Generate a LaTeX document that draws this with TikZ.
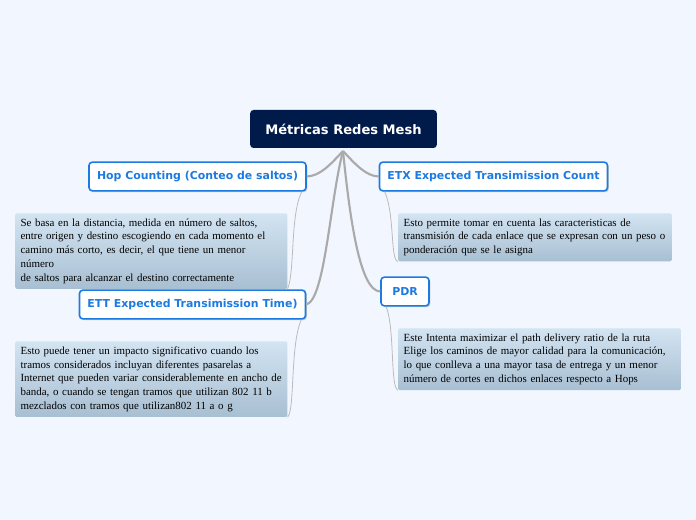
\documentclass[tikz,border=0pt]{standalone}
\usepackage{fontspec}
\setmainfont{Liberation Serif}
\newfontfamily\boxfont{DejaVu Sans}
\usetikzlibrary{shadows}
\definecolor{bg}{HTML}{F2F6FE}
\definecolor{navy}{HTML}{001A4A}
\definecolor{blu}{HTML}{1C7BE0}
\definecolor{ntop}{HTML}{D3E4F2}
\definecolor{nbot}{HTML}{A8BFD2}
\definecolor{lk}{HTML}{AAAAAA}
\begin{document}
\begin{tikzpicture}[x=0.75pt,y=-0.75pt,
  topic/.style={draw=blu,line width=1.2pt,fill=white,rounded corners=2.5pt,font=\boxfont\bfseries\fontsize{8.2}{10}\selectfont,text=blu,minimum height=21.5pt,inner xsep=6pt,drop shadow={shadow xshift=1pt,shadow yshift=-1pt,opacity=.35}},
  note/.style={top color=ntop,bottom color=nbot,draw=none,rounded corners=1pt,anchor=north west,align=left,font=\fontsize{8.2}{10.3}\selectfont,inner xsep=4pt,inner ysep=4pt,text width=#1},
  thick link/.style={draw=lk,line width=1.6pt},
  thin link/.style={draw=lk!80,line width=0.6pt}]
\fill[bg] (0,0) rectangle (696,520);
\useasboundingbox (0,0) rectangle (696,520);
\node[fill=navy,rounded corners=2.5pt,text=white,font=\boxfont\bfseries\fontsize{9.8}{12}\selectfont,minimum width=140pt,minimum height=28.5pt] (root) at (343.5,129) {Métricas Redes Mesh};
\node[topic,minimum width=161pt] (hop) at (197.5,176.5) {Hop Counting (Conteo de saltos)};
\node[topic,minimum width=169pt] (etx) at (493.5,176.5) {ETX Expected Transimission Count};
\node[topic,minimum width=169pt] (ett) at (192.5,304.5) {ETT Expected Transimission Time)};
\node[topic,minimum width=36pt] (pdr) at (405,291.5) {PDR};
\node[note=196pt] (n1) at (15,213) {Se basa en la distancia, medida en número de saltos,\\entre origen y destino escogiendo en cada momento el\\camino más corto, es decir, el que tiene un menor número\\de saltos para alcanzar el destino correctamente};
\node[note=197pt] (n2) at (398,213) {Esto permite tomar en cuenta las caracteristicas de\\transmisión de cada enlace que se expresan con un peso o\\ponderación que se le asigna};
\node[note=196pt] (n3) at (15,341) {Esto puede tener un impacto significativo cuando los\\tramos considerados incluyan diferentes pasarelas a\\Internet que pueden variar considerablemente en ancho de\\banda, o cuando se tengan tramos que utilizan 802 11 b\\mezclados con tramos que utilizan802 11 a o g};
\node[note=204pt] (n4) at (398,328) {Este Intenta maximizar el path delivery ratio de la ruta\\Elige los caminos de mayor calidad para la comunicación,\\lo que conlleva a una mayor tasa de entrega y un menor\\número de cortes en dichos enlaces respecto a Hops};
\coordinate (r) at (343,151);
\draw[thick link] (r) .. controls (330,165) and (320,176) .. (hop.east);
\draw[thick link] (r) .. controls (356,165) and (366,176) .. (etx.west);
\draw[thick link] (r) .. controls (330,200) and (325,300) .. (ett.east);
\draw[thick link] (r) .. controls (350,220) and (360,291) .. (pdr.west);
\draw[thin link] (hop.south east) ++(-5,0) coordinate (h1) .. controls (290,215) and (295,272) .. (n1.south east);
\draw[thin link] (ett.south east) ++(-5,0) coordinate (h2) .. controls (290,345) and (295,411) .. (n3.south east);
\draw[thin link] (etx.south west) ++(6,0) coordinate (h3) .. controls (395,215) and (390,260) .. (n2.south west);
\draw[thin link] (pdr.south west) ++(6,0) coordinate (h4) .. controls (395,330) and (390,387) .. (n4.south west);
\end{tikzpicture}
\end{document}
